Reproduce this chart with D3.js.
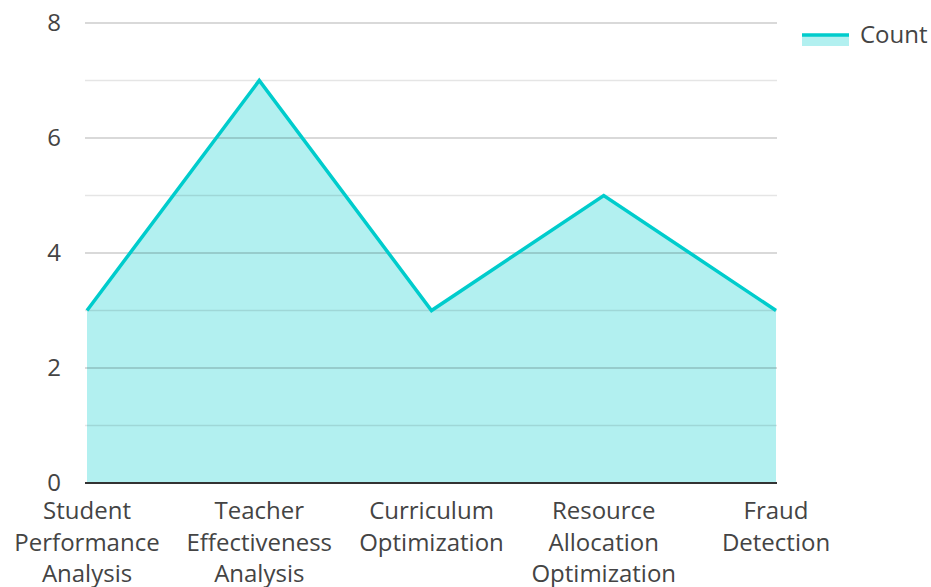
<!DOCTYPE html>
<html>
<head>
<meta charset="utf-8">
<script src="https://cdn.jsdelivr.net/npm/d3@7"></script>
<style>
  body { margin: 0; background: #fff; }
  svg { font-family: "Open Sans", sans-serif; }
</style>
</head>
<body>
<svg width="931" height="587"></svg>
<script>
const categories = [
  ['Student', 'Performance', 'Analysis'],
  ['Teacher', 'Effectiveness', 'Analysis'],
  ['Curriculum', 'Optimization'],
  ['Resource', 'Allocation', 'Optimization'],
  ['Fraud', 'Detection']
]
const counts = [3, 7, 3, 5, 3]
const yTicks = [0, 2, 4, 6, 8]
const minorTicks = [1, 3, 5, 7]
const seriesName = 'Count'

const svg = d3.select('svg')
const plotLeft = 87, plotRight = 776, plotTop = 23, plotBottom = 483
const lineColor = '#00cccc'
const fontSize = 24

const x = d3.scalePoint()
  .domain(d3.range(categories.length))
  .range([plotLeft, plotRight])
const y = d3.scaleLinear()
  .domain([0, 8])
  .range([plotBottom, plotTop])

const data = counts.map((v, i) => ({ i, v }))

// area
svg.append('path')
  .datum(data)
  .attr('fill', 'rgba(0, 204, 204, 0.3)')
  .attr('d', d3.area().x(d => x(d.i)).y0(y(0)).y1(d => y(d.v)))

// gridlines drawn over the fill
svg.append('g')
  .selectAll('line')
  .data(minorTicks)
  .join('line')
  .attr('x1', plotLeft - 2).attr('x2', plotRight + 1)
  .attr('y1', d => y(d)).attr('y2', d => y(d))
  .attr('stroke', 'rgba(0,0,0,0.1)')
  .attr('stroke-width', 1.5)

svg.append('g')
  .selectAll('line')
  .data(yTicks.filter(d => d > 0))
  .join('line')
  .attr('x1', plotLeft - 2).attr('x2', plotRight + 1)
  .attr('y1', d => y(d)).attr('y2', d => y(d))
  .attr('stroke', 'rgba(0,0,0,0.2)')
  .attr('stroke-width', 1.5)

// line
svg.append('path')
  .datum(data)
  .attr('fill', 'none')
  .attr('stroke', lineColor)
  .attr('stroke-width', 3.5)
  .attr('stroke-linejoin', 'miter')
  .attr('d', d3.line().x(d => x(d.i)).y(d => y(d.v)))

// baseline
svg.append('line')
  .attr('x1', plotLeft - 2).attr('x2', plotRight + 1)
  .attr('y1', y(0)).attr('y2', y(0))
  .attr('stroke', '#333')
  .attr('stroke-width', 2)

// y tick labels
const yAxis = d3.axisLeft(y).tickValues(yTicks).tickSize(0).tickPadding(26)
const yg = svg.append('g').attr('transform', `translate(${plotLeft},0)`).call(yAxis)
yg.select('.domain').remove()
yg.selectAll('text')
  .attr('font-size', fontSize)
  .attr('font-family', '"Open Sans", sans-serif')
  .attr('fill', '#444')

// x labels
const xg = svg.append('g')
categories.forEach((lines, i) => {
  const t = xg.append('text')
    .attr('x', x(i))
    .attr('y', 519)
    .attr('text-anchor', 'middle')
    .attr('font-size', fontSize)
    .attr('fill', '#444')
  lines.forEach((l, k) => {
    t.append('tspan').attr('x', x(i)).attr('dy', k === 0 ? 0 : 31.5).text(l)
  })
})

// legend
const lg = svg.append('g')
lg.append('rect')
  .attr('x', 802).attr('y', 35).attr('width', 47).attr('height', 11)
  .attr('fill', 'rgba(0, 204, 204, 0.3)')
lg.append('line')
  .attr('x1', 802).attr('x2', 849).attr('y1', 35).attr('y2', 35)
  .attr('stroke', lineColor).attr('stroke-width', 3.5)
lg.append('text')
  .attr('x', 860).attr('y', 43)
  .attr('font-size', fontSize)
  .attr('fill', '#444')
  .text(seriesName)
</script>
</body>
</html>
